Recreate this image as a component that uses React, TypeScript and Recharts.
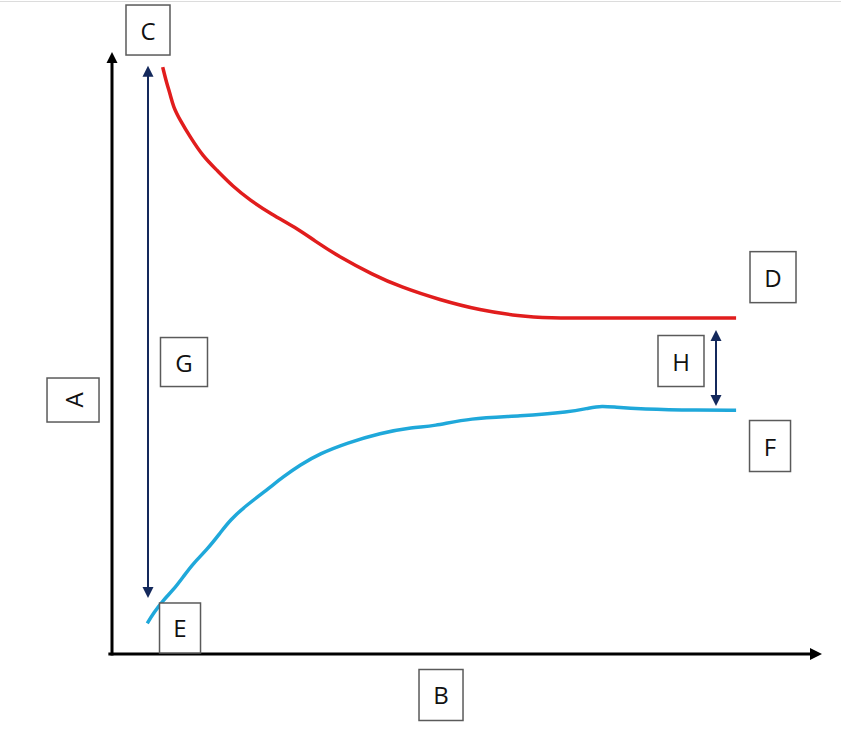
import { LineChart, Line, XAxis, YAxis, ReferenceLine, ReferenceDot } from 'recharts'

// red curve (upper)
const redX = [7.14, 7.7, 8.17, 8.63, 9.58, 11.0, 12.86, 14.75, 17.08, 19.44, 22.25, 26.48, 28.31, 32.1, 36.76, 40.56, 46.2, 51.8, 57.5, 61.0, 70.0, 80.0, 87.9]
const redY = [97.5, 94.8, 93.1, 90.9, 88.7, 85.9, 82.6, 80.4, 77.6, 75.4, 73.2, 70.4, 68.8, 65.9, 63.0, 61.0, 58.8, 57.1, 56.1, 55.8, 55.8, 55.8, 55.8]

// blue curve (lower)
const blueX = [4.97, 5.82, 7.23, 8.63, 10.04, 11.45, 13.34, 15.21, 16.62, 18.97, 21.79, 24.13, 26.48, 29.3, 33.1, 37.75, 42.4, 45.2, 50.4, 57.5, 64.5, 67.3, 69.0, 70.8, 74.4, 82.8, 87.9]
const blueY = [5.1, 6.76, 8.97, 10.63, 12.84, 15.07, 17.28, 20.05, 22.26, 24.75, 27.24, 29.45, 31.4, 33.3, 35.05, 36.7, 37.7, 37.8, 39.2, 39.5, 40.2, 40.9, 41.2, 41.0, 40.7, 40.5, 40.5]

const labels = ['A', 'B', 'C', 'D', 'E', 'F', 'G', 'H']

const redData = redX.map((x, i) => ({ x, y: redY[i] }))
const blueData = blueX.map((x, i) => ({ x, y: blueY[i] }))

const FONT = '"Open Sans", "Liberation Sans", sans-serif'
const NAVY = '#14295c'

function arrowShape(color: string, width: number, head: number, both: boolean) {
  return (props: any) => {
    const { x1, y1, x2, y2 } = props
    const len = Math.hypot(x2 - x1, y2 - y1) || 1
    const ux = (x2 - x1) / len
    const uy = (y2 - y1) / len
    const px = -uy
    const py = ux
    const hw = head / 2
    const tri = (tx: number, ty: number, dx: number, dy: number) =>
      `${tx},${ty} ${tx - dx * head + px * hw},${ty - dy * head + py * hw} ${tx - dx * head - px * hw},${ty - dy * head - py * hw}`
    const sx = both ? x1 + ux * (head - 1) : x1
    const sy = both ? y1 + uy * (head - 1) : y1
    return (
      <g>
        <line x1={sx} y1={sy} x2={x2 - ux * (head - 1)} y2={y2 - uy * (head - 1)} stroke={color} strokeWidth={width} strokeLinecap={both ? 'butt' : 'square'} />
        <polygon points={tri(x2, y2, ux, uy)} fill={color} />
        {both && <polygon points={tri(x1, y1, -ux, -uy)} fill={color} />}
      </g>
    )
  }
}

function box(text: string, w: number, h: number, rotate = false) {
  return (props: any) => {
    const { cx, cy } = props
    return (
      <g>
        <rect x={cx - w / 2} y={cy - h / 2} width={w} height={h} fill="#fff" stroke="#5a5a5a" strokeWidth={1.5} />
        <text
          x={cx}
          y={cy}
          textAnchor="middle"
          dominantBaseline="central"
          fontSize={24}
          fontFamily={FONT}
          fill="#111"
          transform={rotate ? `rotate(-90 ${cx} ${cy})` : undefined}
        >
          {text}
        </text>
      </g>
    )
  }
}

export default function App() {
  const [A, B, C, D, E, F, G, H] = labels
  return (
    <div style={{ position: 'absolute', left: 0, top: 0, width: 841, height: 743, background: '#fff' }}>
      <div style={{ position: 'absolute', left: 0, top: 1, width: 841, height: 1, background: '#dcdcdc' }} />
      <LineChart width={841} height={743} margin={{ top: 52, right: 19, bottom: 89, left: 112 }}>
        <XAxis type="number" dataKey="x" domain={[0, 100]} hide allowDataOverflow />
        <YAxis type="number" dataKey="y" domain={[0, 100]} hide allowDataOverflow />

        <ReferenceLine segment={[{ x: -0.3, y: 0 }, { x: 100, y: 0 }]} ifOverflow="visible" shape={arrowShape('#000', 3, 12, false)} />
        <ReferenceLine segment={[{ x: 0, y: 0 }, { x: 0, y: 100 }]} ifOverflow="visible" shape={arrowShape('#000', 3, 11, false)} />

        <Line data={redData} dataKey="y" type="basis" stroke="#e11d1d" strokeWidth={3.5} dot={false} isAnimationActive={false} />
        <Line data={blueData} dataKey="y" type="basis" stroke="#1fa8da" strokeWidth={3.5} dot={false} isAnimationActive={false} />

        <ReferenceLine segment={[{ x: 5.07, y: 9.3 }, { x: 5.07, y: 97.7 }]} ifOverflow="visible" shape={arrowShape(NAVY, 2, 11, true)} />
        <ReferenceLine segment={[{ x: 85.07, y: 41.2 }, { x: 85.07, y: 53.8 }]} ifOverflow="visible" shape={arrowShape(NAVY, 2, 11, true)} />

        <ReferenceDot x={5.07} y={103.65} ifOverflow="visible" shape={box(C, 44, 50)} />
        <ReferenceDot x={93.1} y={62.6} ifOverflow="visible" shape={box(D, 46, 51)} />
        <ReferenceDot x={80.14} y={48.67} ifOverflow="visible" shape={box(H, 46, 51)} />
        <ReferenceDot x={92.68} y={34.55} ifOverflow="visible" shape={box(F, 41, 51)} />
        <ReferenceDot x={9.58} y={4.32} ifOverflow="visible" shape={box(E, 41, 50)} />
        <ReferenceDot x={10.14} y={48.5} ifOverflow="visible" shape={box(G, 47, 49)} />
        <ReferenceDot x={-5.49} y={42.19} ifOverflow="visible" shape={box(A, 52, 44, true)} />
        <ReferenceDot x={46.34} y={-6.81} ifOverflow="visible" shape={box(B, 44, 51)} />
      </LineChart>
    </div>
  )
}
